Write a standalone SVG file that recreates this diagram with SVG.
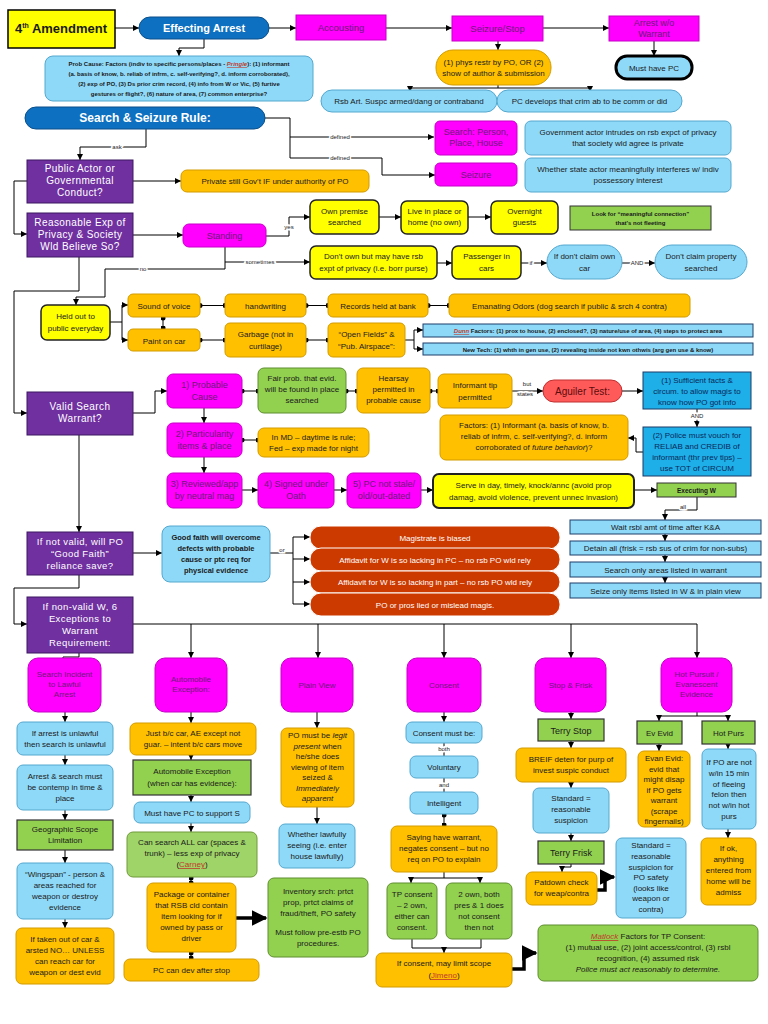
<svg xmlns="http://www.w3.org/2000/svg" width="768" height="1024" viewBox="0 0 768 1024">
<defs>
<marker id="ah" viewBox="0 0 10 10" refX="10" refY="5" markerWidth="6" markerHeight="6" markerUnits="userSpaceOnUse" orient="auto"><path d="M0,0 L10,5 L0,10 z" fill="#000"/></marker>
<marker id="dot" viewBox="0 0 10 10" refX="5" refY="5" markerWidth="5" markerHeight="5" markerUnits="userSpaceOnUse"><circle cx="5" cy="5" r="5" fill="#000"/></marker>
<marker id="bah" viewBox="0 0 10 10" refX="9" refY="5" markerWidth="16" markerHeight="16" markerUnits="userSpaceOnUse" orient="auto"><path d="M0,0 L10,5 L0,10 z" fill="#000"/></marker>
<style>
text{font-family:"Liberation Sans",Arial,Helvetica,sans-serif;font-size:8px;fill:#1a1a1a;text-anchor:middle}
.c{fill:none;stroke:#000;stroke-width:1}
.a{marker-end:url(#ah)}
.d{marker-start:url(#dot);marker-end:url(#dot)}
.thick{fill:none;stroke:#000;stroke-width:3.5;marker-end:url(#bah)}
.y{fill:#ffff00;stroke:#222;stroke-width:1.5}
.o{fill:#ffc000;stroke:#d39b00;stroke-width:1}
.lb{fill:#8fd9f8;stroke:#55a8cf;stroke-width:1}
.lbr{fill:#8fd9f8;stroke:#1f3f6a;stroke-width:1}
.m{fill:#ff00ff;stroke:#c800c8;stroke-width:1}
.p{fill:#7030a0;stroke:#3d1660;stroke-width:1}
.g{fill:#92d050;stroke:#5f8f30;stroke-width:1}
.gr{fill:#92d050;stroke:#333;stroke-width:1.2}
.r{fill:#cc3a00;stroke:#ffffff;stroke-width:1}
.bp{fill:#0e70c0;stroke:#0a4f8a;stroke-width:1}
.mb{fill:#1eaee8;stroke:#1a3a66;stroke-width:1}
.tw{fill:#fff}
.tp{fill:#fff;font-size:10px;letter-spacing:0.4px}
.tm{fill:#6e1a78;font-size:9px}
.lbl{font-size:6px;stroke:#fff;stroke-width:3;paint-order:stroke}
.red{fill:#c0392b;font-style:italic;text-decoration:underline}
.i{font-style:italic}
</style>
</defs>

<g id="connectors">
<path class="c a" d="M115,28 H139"/>
<path class="c a" d="M269,28 H296"/>
<path class="c a" d="M386,28 H452"/>
<path class="c a" d="M543,28 H609"/>
<path class="c a" d="M654,41 V56"/>
<path class="c a" d="M498,41 V50"/>
<path class="c" d="M498,85 V88 M410,88 H590"/>
<path class="c a" d="M410,88 V92"/>
<path class="c a" d="M590,88 V92"/>
<path class="c a" d="M204,39 V48 H179 V56"/>
<path class="c a" d="M265,118 H290 V137 H434"/>
<path class="c a" d="M290,137 V158 H382 V175 H435"/>
<text class="lbl" x="340" y="139">defined</text>
<text class="lbl" x="340" y="160">defined</text>
<path class="c a" d="M146,129 V147 H80 V160"/>
<text class="lbl" x="117" y="149">ask</text>
<path class="c a" d="M133,181 H181"/>
<path class="c a" d="M27,181 H14 V234 H27"/>
<path class="c a" d="M133,235 H183"/>
<path class="c a" d="M266,236 H289 V217 H310"/>
<text class="lbl" x="289" y="229">yes</text>
<path class="c a" d="M379,217 H401"/>
<path class="c a" d="M468,217 H491"/>
<path class="c a" d="M225,247 V262 H310"/>
<text class="lbl" x="260" y="264">sometimes</text>
<path class="c a" d="M225,262 V269 H105 V297 H76 V305"/>
<text class="lbl" x="143" y="271">no</text>
<path class="c a" d="M79,257 V291 H14 V413 H27"/>
<path class="c a" d="M437,263 H452"/>
<path class="c a" d="M521,263 H547"/>
<text class="lbl" x="531" y="265">if</text>
<path class="c a" d="M622,263 H655"/>
<text class="lbl" x="637" y="265">AND</text>
<path class="c" d="M110,322 H122 M122,305 V340"/>
<path class="c a" d="M122,305 H128"/>
<path class="c a" d="M122,340 H128"/>
<path class="c d" d="M200,305.5 H225"/>
<path class="c d" d="M306,305.5 H328"/>
<path class="c d" d="M428,305.5 H449"/>
<path class="c d" d="M163,318 V328"/>
<path class="c d" d="M200,340 H225"/>
<path class="c d" d="M306,340 H328"/>
<path class="c" d="M405,340 H414 M414,330 V349"/>
<path class="c a" d="M414,330 H423"/>
<path class="c a" d="M414,349 H423"/>
<path class="c a" d="M133,413 H155 V391 H167"/>
<path class="c d" d="M242,391 H258"/>
<path class="c d" d="M346,391 H357"/>
<path class="c d" d="M430,391 H438"/>
<path class="c a" d="M512,391 H543"/>
<text class="lbl" x="527" y="386">but</text>
<text class="lbl" x="525" y="396">states</text>
<path class="c a" d="M622,391 H643"/>
<path class="c a" d="M697,409 V427"/>
<text class="lbl" x="697" y="418">AND</text>
<path class="c a" d="M643,452 H636 V438 H628"/>
<path class="c a" d="M204,408 V423"/>
<path class="c d" d="M242,440 H258"/>
<path class="c a" d="M204,457 V473"/>
<path class="c a" d="M242,490 H258"/>
<path class="c a" d="M334,490 H347"/>
<path class="c a" d="M421,490 H433"/>
<path class="c a" d="M634,490 H657"/>
<path class="c a" d="M697,497 V510 H665 V520"/>
<text class="lbl" x="683" y="509">all</text>
<path class="c a" d="M665,534 V541"/>
<path class="c a" d="M665,555 V562"/>
<path class="c a" d="M665,577 V583"/>
<path class="c a" d="M79,435 V532"/>
<path class="c a" d="M133,553 H162"/>
<path class="c" d="M270,553 H293 M293,537 V604"/>
<text class="lbl" x="282" y="552">or</text>
<path class="c a" d="M293,537 H310"/>
<path class="c a" d="M293,559 H310"/>
<path class="c a" d="M293,582 H310"/>
<path class="c a" d="M293,604 H310"/>
<path class="c a" d="M79,575 V588 H14 V624 H27"/>
<path class="c" d="M133,624 H697"/>
<path class="c a" d="M191,624 V658"/>
<path class="c a" d="M318,624 V658"/>
<path class="c a" d="M444,624 V658"/>
<path class="c a" d="M571,624 V658"/>
<path class="c a" d="M697,624 V658"/>
<path class="c" d="M79,653 V657 H63 V658"/>
<path class="c a" d="M65,712 V722"/>
<path class="c a" d="M65,755 V765"/>
<path class="c a" d="M65,810 V820"/>
<path class="c a" d="M65,850 V863"/>
<path class="c a" d="M65,919 V928"/>
<path class="c a" d="M191,712 V723"/>
<path class="c a" d="M191,755 V760"/>
<path class="c a" d="M191,795 V802"/>
<path class="c a" d="M191,823 V832"/>
<path class="c d" d="M191,878 V883"/>
<path class="c d" d="M191,953 V958"/>
<path class="thick" d="M236,918 H266"/>
<path class="c a" d="M317,712 V728"/>
<path class="c a" d="M317,807 V824"/>
<path class="c a" d="M444,712 V722"/>
<path class="c" d="M444,743 V756"/>
<text class="lbl" x="444" y="751">both</text>
<path class="c" d="M444,778 V792"/>
<text class="lbl" x="444" y="787">and</text>
<path class="c d" d="M444,815 V825"/>
<path class="c" d="M444,872 V878 M411,878 H480"/>
<path class="c a" d="M411,878 V883"/>
<path class="c a" d="M480,878 V883"/>
<path class="c" d="M412,939 V948 H481 V939"/>
<path class="c a" d="M444,948 V953"/>
<path class="thick" d="M512,969 H524 V953 H536"/>
<path class="c a" d="M571,712 V719"/>
<path class="c a" d="M571,741 V748"/>
<path class="c a" d="M571,782 V788"/>
<path class="c a" d="M571,833 V841"/>
<path class="c a" d="M571,864 V867 H562 V872"/>
<path class="thick" d="M597,890 H605 V877 H614"/>
<path class="c" d="M697,712 V716 M659,716 H728"/>
<path class="c a" d="M659,716 V721"/>
<path class="c a" d="M728,716 V721"/>
<path class="c a" d="M659,744 V751"/>
<path class="c a" d="M728,744 V749"/>
<path class="c a" d="M728,829 V838"/>
</g>

<g id="n-amendment"><rect x="8" y="10" width="107" height="38" fill="#ffff00" stroke="#000" stroke-width="1.5"/><text x="61" y="33" style="font-size:13px;font-weight:bold">4<tspan style="font-size:7px" dy="-5">th</tspan><tspan dy="5"> Amendment</tspan></text></g>
<g id="n-effecting"><rect class="bp" x="139" y="17" width="130" height="22" rx="11"/><text class="tw" x="204" y="32" style="font-size:11px;font-weight:bold">Effecting Arrest</text></g>
<g id="n-accousting"><rect class="m" x="296" y="15" width="90" height="25"/><text class="tm" x="341" y="31" style="font-size:9.5px">Accousting</text></g>
<g id="n-seizurestop"><rect class="m" x="452" y="16" width="91" height="25"/><text class="tm" x="497.5" y="32" style="font-size:9.5px">Seizure/Stop</text></g>
<g id="n-arrestwo"><rect class="m" x="609" y="16" width="90" height="25"/><text class="tm" x="654" y="26">Arrest  w/o</text><text class="tm" x="654" y="37">Warrant</text></g>
<g id="n-musthavepc"><rect x="616" y="56" width="76" height="23" rx="11" fill="#8fd9f8" stroke="#000" stroke-width="3"/><text x="654" y="71">Must have PC</text></g>
<g id="n-physrestr"><rect class="o" x="436" y="50" width="115" height="35" rx="17"/><text x="493.5" y="65">(1) phys restr by PO, OR (2)</text><text x="493.5" y="76">show of author &amp; submission</text></g>
<g id="n-rsbart"><rect class="lb" x="321" y="90" width="176" height="22" rx="11" stroke="#1f3f6a"/><text x="409" y="104">Rsb Art. Suspc armed/dang or contraband</text></g>
<g id="n-pcdevelops"><rect class="lb" x="497" y="90" width="185" height="22" rx="11" stroke="#1f3f6a"/><text x="589.5" y="104">PC develops that crim ab to be comm or did</text></g>
<g id="n-probcause"><rect class="lb" x="45" y="56" width="268" height="45" rx="8"/>
<text x="179" y="66" style="font-size:6px;font-weight:bold">Prob Cause: Factors (indiv to specific persons/places - <tspan class="red">Pringle</tspan>): (1) informant</text>
<text x="179" y="76" style="font-size:6px;font-weight:bold">(a. basis of know, b. reliab of infrm, c. self-verifying?, d. inform corroborated),</text>
<text x="179" y="86" style="font-size:6px;font-weight:bold">(2) exp of PO, (3) Ds prior crim record, (4) info from W or Vic, (5) furtive</text>
<text x="179" y="96" style="font-size:6px;font-weight:bold">gestures or flight?, (6) nature of area, (7) common enterprise?</text></g>
<g id="n-ssrule"><rect class="bp" x="25" y="107" width="240" height="22" rx="11"/><text class="tw" x="145" y="122" style="font-size:12px;font-weight:bold">Search &amp; Seizure Rule:</text></g>
<g id="n-searchdef"><rect class="m" x="435" y="121" width="82" height="34" rx="5"/><text class="tm" x="476" y="135">Search: Person,</text><text class="tm" x="476" y="146">Place, House</text></g>
<g id="n-govactor"><rect class="lb" x="525" y="121" width="206" height="34" rx="6"/><text x="628" y="135">Government actor intrudes on rsb expct of privacy</text><text x="628" y="146">that society wld agree is private</text></g>
<g id="n-seizuredef"><rect class="m" x="435" y="163" width="82" height="23" rx="5"/><text class="tm" x="476" y="178">Seizure</text></g>
<g id="n-stateactor"><rect class="lb" x="525" y="158" width="206" height="34" rx="6"/><text x="628" y="172">Whether state actor meaningfully interferes w/ indiv</text><text x="628" y="183">possessory interest</text></g>
<g id="n-publicactor"><rect class="p" x="27" y="160" width="106" height="43"/><text class="tp" x="80" y="172">Public Actor or</text><text class="tp" x="80" y="184">Governmental</text><text class="tp" x="80" y="196">Conduct?</text></g>
<g id="n-private"><rect class="o" x="181" y="170" width="188" height="22" rx="6"/><text x="275" y="184">Private still Gov't IF under authority of PO</text></g>
<g id="n-reasonable"><rect class="p" x="27" y="213" width="106" height="44"/><text class="tp" x="80" y="226">Reasonable Exp of</text><text class="tp" x="80" y="238">Privacy &amp; Society</text><text class="tp" x="80" y="250">Wld Believe So?</text></g>
<g id="n-standing"><rect class="m" x="183" y="224" width="83" height="23" rx="6"/><text class="tm" x="224.5" y="239">Standing</text></g>
<g id="n-ownpremise"><rect class="y" x="310" y="200" width="69" height="34" rx="6"/><text x="344.5" y="214">Own premise</text><text x="344.5" y="225">searched</text></g>
<g id="n-liveinplace"><rect class="y" x="401" y="201" width="67" height="33" rx="6"/><text x="434.5" y="214">Live in place or</text><text x="434.5" y="225">home (no own)</text></g>
<g id="n-overnight"><rect class="y" x="491" y="201" width="67" height="33" rx="6"/><text x="524.5" y="214">Overnight</text><text x="524.5" y="225">guests</text></g>
<g id="n-meaningful"><rect x="570" y="206" width="141" height="24" fill="#92d050" stroke="#333"/><text x="640.5" y="216" style="font-size:6px;font-weight:bold">Look for “meaningful connection”</text><text x="640.5" y="225" style="font-size:6px;font-weight:bold">that's not fleeting</text></g>
<g id="n-dontown"><rect class="y" x="310" y="246" width="127" height="33" rx="6"/><text x="373.5" y="259">Don't own but may have rsb</text><text x="373.5" y="271">expt of privacy (i.e. borr purse)</text></g>
<g id="n-passenger"><rect class="y" x="452" y="246" width="69" height="33" rx="6"/><text x="486.5" y="259">Passenger in</text><text x="486.5" y="271">cars</text></g>
<g id="n-dontclaimcar"><rect class="lb" x="547" y="245" width="75" height="34" rx="17" stroke="#1f3f6a"/><text x="584.5" y="259">If don't claim own</text><text x="584.5" y="271">car</text></g>
<g id="n-dontclaimprop"><rect class="lb" x="655" y="245" width="92" height="34" rx="17" stroke="#1f3f6a"/><text x="701" y="259">Don't claim property</text><text x="701" y="271">searched</text></g>
<g id="n-heldout"><rect class="y" x="41" y="305" width="69" height="35" rx="6"/><text x="75.5" y="319">Held out to</text><text x="75.5" y="331">public everyday</text></g>
<g id="n-voice"><rect class="o" x="128" y="294" width="72" height="23" rx="5"/><text x="164" y="309">Sound of voice</text></g>
<g id="n-handwriting"><rect class="o" x="225" y="294" width="81" height="23" rx="5"/><text x="265.5" y="309">handwriting</text></g>
<g id="n-records"><rect class="o" x="328" y="294" width="100" height="23" rx="5"/><text x="378" y="309">Records held at bank</text></g>
<g id="n-odors"><rect class="o" x="449" y="294" width="241" height="23" rx="5"/><text x="569.5" y="309">Emanating Odors (dog search if public &amp; srch 4 contra)</text></g>
<g id="n-paint"><rect class="o" x="128" y="329" width="72" height="22" rx="5"/><text x="164" y="344">Paint on car</text></g>
<g id="n-garbage"><rect class="o" x="225" y="323" width="81" height="34" rx="5"/><text x="265.5" y="337">Garbage (not in</text><text x="265.5" y="349">curtilage)</text></g>
<g id="n-openfields"><rect class="o" x="328" y="323" width="77" height="34" rx="5"/><text x="366.5" y="337">“Open Fields” &amp;</text><text x="366.5" y="349">“Pub. Airspace”:</text></g>
<g id="n-dunn"><rect class="lbr" x="423" y="324" width="330" height="13"/><text x="588" y="333" style="font-size:6px;font-weight:bold"><tspan class="red">Dunn</tspan> Factors: (1) prox to house, (2) enclosed?, (3) nature/use of area, (4) steps to protect area</text></g>
<g id="n-newtech"><rect class="lbr" x="423" y="343" width="330" height="12"/><text x="588" y="351.5" style="font-size:6px;font-weight:bold">New Tech: (1) whth in gen use, (2) revealing inside not kwn othwis (arg gen use &amp; know)</text></g>
<g id="n-validwarrant"><rect class="p" x="27" y="392" width="106" height="43"/><text class="tp" x="80" y="410">Valid Search</text><text class="tp" x="80" y="422">Warrant?</text></g>
<g id="n-probable"><rect class="m" x="167" y="374" width="75" height="34" rx="6"/><text class="tm" x="204.5" y="388">1) Probable</text><text class="tm" x="204.5" y="400">Cause</text></g>
<g id="n-fairprob"><rect class="g" x="258" y="368" width="88" height="45" rx="6"/><text x="302" y="381">Fair prob. that evid.</text><text x="302" y="392">will be found in place</text><text x="302" y="403">searched</text></g>
<g id="n-hearsay"><rect class="o" x="357" y="368" width="73" height="45" rx="6"/><text x="393.5" y="381">Hearsay</text><text x="393.5" y="392">permitted in</text><text x="393.5" y="403">probable cause</text></g>
<g id="n-informanttip"><rect class="o" x="438" y="374" width="74" height="34" rx="6"/><text x="475" y="388">Informant tip</text><text x="475" y="400">permitted</text></g>
<g id="n-aguiler"><rect x="543" y="380" width="79" height="22" rx="11" fill="#ff5a5a" stroke="#c03030"/><text x="582.5" y="395" style="font-size:10px;fill:#5a0c0c">Aguiler Test:</text></g>
<g id="n-sufficient"><rect class="mb" x="643" y="372" width="108" height="37"/><text x="697" y="383" style="fill:#0b2a5a">(1) Sufficient facts &amp;</text><text x="697" y="394" style="fill:#0b2a5a">circum. to allow magis to</text><text x="697" y="405" style="fill:#0b2a5a">know how PO got info</text></g>
<g id="n-vouch"><rect class="mb" x="643" y="427" width="108" height="49"/><text x="697" y="438" style="fill:#0b2a5a">(2) Police must vouch for</text><text x="697" y="449" style="fill:#0b2a5a">RELIAB and CREDIB of</text><text x="697" y="460" style="fill:#0b2a5a">informant (thr prev tips) –</text><text x="697" y="471" style="fill:#0b2a5a">use TOT of CIRCUM</text></g>
<g id="n-factors"><rect class="o" x="440" y="415" width="188" height="45" rx="6"/><text x="534" y="428">Factors: (1) Informant (a. basis of know, b.</text><text x="534" y="439">reliab of infrm, c. self-verifying?, d. inform</text><text x="534" y="450">corroborated of <tspan class="i">future behavior</tspan>)?</text></g>
<g id="n-particularity"><rect class="m" x="167" y="423" width="75" height="34" rx="6"/><text class="tm" x="204.5" y="437">2) Particularity</text><text class="tm" x="204.5" y="449">items &amp; place</text></g>
<g id="n-inmd"><rect class="o" x="258" y="428" width="111" height="29" rx="6"/><text x="313.5" y="440">In MD – daytime is rule;</text><text x="313.5" y="451">Fed – exp made for night</text></g>
<g id="n-reviewed"><rect class="m" x="167" y="473" width="75" height="35" rx="6"/><text class="tm" x="204.5" y="487">3) Reviewed/app</text><text class="tm" x="204.5" y="499">by neutral mag</text></g>
<g id="n-signed"><rect class="m" x="258" y="473" width="76" height="35" rx="6"/><text class="tm" x="296" y="487">4) Signed under</text><text class="tm" x="296" y="499">Oath</text></g>
<g id="n-notstale"><rect class="m" x="347" y="473" width="74" height="35" rx="6"/><text class="tm" x="384" y="487">5) PC not stale/</text><text class="tm" x="384" y="499">old/out-dated</text></g>
<g id="n-serve"><rect x="433" y="474" width="201" height="34" rx="6" fill="#ffff00" stroke="#222" stroke-width="2"/><text x="533.5" y="488">Serve in day, timely, knock/annc (avoid prop</text><text x="533.5" y="500">damag, avoid violence, prevent unnec invasion)</text></g>
<g id="n-executing"><rect x="657" y="483" width="79" height="14" fill="#92d050" stroke="#333"/><text x="696.5" y="493" style="font-size:6.5px;font-weight:bold">Executing W</text></g>
<g id="n-wait"><rect class="lbr" x="570" y="520" width="191" height="14"/><text x="665.5" y="530">Wait rsbl amt of time after K&amp;A</text></g>
<g id="n-detain"><rect class="lbr" x="570" y="541" width="191" height="14"/><text x="665.5" y="551">Detain all (frisk = rsb sus of crim for non-subs)</text></g>
<g id="n-searchonly"><rect class="lbr" x="570" y="562" width="191" height="15"/><text x="665.5" y="572.5">Search only areas listed in warrant</text></g>
<g id="n-seizeonly"><rect class="lbr" x="570" y="583" width="191" height="15"/><text x="665.5" y="593.5">Seize only items listed in W &amp; in plain view</text></g>
<g id="n-notvalid"><rect class="p" x="27" y="532" width="106" height="43"/><text class="tp" x="80" y="545" style="font-size:9.5px">If not valid, will PO</text><text class="tp" x="80" y="557" style="font-size:9.5px">“Good Faith”</text><text class="tp" x="80" y="569" style="font-size:9.5px">reliance save?</text></g>
<g id="n-goodfaith"><rect class="lb" x="162" y="526" width="108" height="56" rx="8"/><text x="216" y="540" style="font-size:7.5px;font-weight:bold">Good faith will overcome</text><text x="216" y="551" style="font-size:7.5px;font-weight:bold">defects with probable</text><text x="216" y="562" style="font-size:7.5px;font-weight:bold">cause or ptc req for</text><text x="216" y="573" style="font-size:7.5px;font-weight:bold">physical evidence</text></g>
<g id="n-biased"><rect class="r" x="310" y="526" width="250" height="23" rx="11"/><text class="tw" x="435" y="541">Magistrate is biased</text></g>
<g id="n-lackingpc"><rect class="r" x="310" y="548" width="250" height="23" rx="11"/><text class="tw" x="435" y="563">Affidavit for W is so lacking in PC – no rsb PO wld rely</text></g>
<g id="n-lackingpart"><rect class="r" x="310" y="571" width="250" height="22" rx="11"/><text class="tw" x="435" y="585">Affidavit for W is so lacking in part – no rsb PO wld rely</text></g>
<g id="n-lied"><rect class="r" x="310" y="593" width="250" height="23" rx="11"/><text class="tw" x="435" y="608">PO or pros lied or mislead magis.</text></g>
<g id="n-nonvalid"><rect class="p" x="27" y="597" width="106" height="56"/><text class="tp" x="80" y="610" style="font-size:9.5px">If non-valid W, 6</text><text class="tp" x="80" y="622" style="font-size:9.5px">Exceptions to</text><text class="tp" x="80" y="634" style="font-size:9.5px">Warrant</text><text class="tp" x="80" y="646" style="font-size:9.5px">Requirement:</text></g>
<g id="n-sita"><rect class="m" x="28" y="658" width="73" height="54" rx="10"/><text class="tm" x="64.5" y="677" style="font-size:8px">Search Incident</text><text class="tm" x="64.5" y="687" style="font-size:8px">to Lawful</text><text class="tm" x="64.5" y="697" style="font-size:8px">Arrest</text></g>
<g id="n-auto"><rect class="m" x="155" y="658" width="72" height="54" rx="10"/><text class="tm" x="191" y="682" style="font-size:8px">Automobile</text><text class="tm" x="191" y="692" style="font-size:8px">Exception:</text></g>
<g id="n-plainview"><rect class="m" x="281" y="658" width="72" height="54" rx="10"/><text class="tm" x="317" y="688" style="font-size:8px">Plain View</text></g>
<g id="n-consent"><rect class="m" x="407" y="658" width="74" height="54" rx="10"/><text class="tm" x="444" y="688" style="font-size:8px">Consent</text></g>
<g id="n-stopfrisk"><rect class="m" x="535" y="658" width="71" height="54" rx="10"/><text class="tm" x="570.5" y="688" style="font-size:8px">Stop &amp; Frisk</text></g>
<g id="n-hotpursuit"><rect class="m" x="661" y="658" width="71" height="54" rx="10"/><text class="tm" x="696.5" y="677" style="font-size:8px">Hot Pursuit /</text><text class="tm" x="696.5" y="687" style="font-size:8px">Evanescent</text><text class="tm" x="696.5" y="697" style="font-size:8px">Evidence</text></g>
<g id="n-arrestunlawful"><rect class="lb" x="17" y="722" width="96" height="33" rx="6"/><text x="65" y="736">If arrest is unlawful</text><text x="65" y="747">then search is unlawful</text></g>
<g id="n-contemp"><rect class="lb" x="17" y="765" width="96" height="45" rx="6"/><text x="65" y="779">Arrest &amp; search must</text><text x="65" y="790">be contemp in time &amp;</text><text x="65" y="801">place</text></g>
<g id="n-geographic"><rect class="gr" x="17" y="820" width="96" height="30"/><text x="65" y="832">Geographic Scope</text><text x="65" y="843">Limitation</text></g>
<g id="n-wingspan"><rect class="lb" x="17" y="863" width="96" height="56" rx="6"/><text x="65" y="877">“Wingspan” - person &amp;</text><text x="65" y="888">areas reached for</text><text x="65" y="899">weapon or destroy</text><text x="65" y="910">evidence</text></g>
<g id="n-takenout"><rect class="o" x="16" y="928" width="98" height="56" rx="6"/><text x="65" y="942">If taken out of car &amp;</text><text x="65" y="953">arsted NO… UNLESS</text><text x="65" y="964">can reach car for</text><text x="65" y="975">weapon or dest evid</text></g>
<g id="n-justcar"><rect class="o" x="130" y="723" width="126" height="32" rx="6"/><text x="193" y="736">Just b/c car, AE except not</text><text x="193" y="747">guar. – intent b/c cars move</text></g>
<g id="n-autoexc"><rect class="gr" x="133" y="760" width="118" height="35"/><text x="192" y="774">Automobile Exception</text><text x="192" y="786">(when car has evidence):</text></g>
<g id="n-musthavepcs"><rect class="lb" x="134" y="802" width="116" height="21" rx="6"/><text x="192" y="816">Must have PC to support S</text></g>
<g id="n-searchall"><rect x="127" y="832" width="130" height="45" rx="6" fill="#9fd468" stroke="#6f9a3a"/><text x="192" y="845">Can search ALL car (spaces &amp;</text><text x="192" y="856">trunk) – less exp of privacy</text><text x="192" y="867">(<tspan class="red" style="font-style:normal">Carney</tspan>)</text></g>
<g id="n-package"><rect class="o" x="147" y="883" width="89" height="69" rx="6"/><text x="191.5" y="897">Package or container</text><text x="191.5" y="908">that RSB cld contain</text><text x="191.5" y="919">item looking for if</text><text x="191.5" y="930">owned by pass or</text><text x="191.5" y="941">driver</text></g>
<g id="n-pcdev"><rect class="o" x="124" y="959" width="135" height="22" rx="6"/><text x="191.5" y="973">PC can dev after stop</text></g>
<g id="n-inventory"><rect class="g" x="268" y="878" width="100" height="79" rx="6"/><text x="318" y="894">Inventory srch: prtct</text><text x="318" y="905">prop, prtct claims of</text><text x="318" y="916">fraud/theft, PO safety</text><text x="318" y="935">Must follow pre-estb PO</text><text x="318" y="946">procedures.</text></g>
<g id="n-legit"><rect class="o" x="281" y="728" width="73" height="79" rx="6"/><text x="317.5" y="738">PO must be <tspan class="i">legit</tspan></text><text x="317.5" y="748.5"><tspan class="i">present</tspan> when</text><text x="317.5" y="759">he/she does</text><text x="317.5" y="769.5">viewing of item</text><text x="317.5" y="780">seized &amp;</text><text x="317.5" y="790.5" class="i">Immediately</text><text x="317.5" y="801" class="i">apparent</text></g>
<g id="n-lawfully"><rect class="lb" x="279" y="824" width="76" height="44" rx="6"/><text x="317" y="837">Whether lawfully</text><text x="317" y="848">seeing (i.e. enter</text><text x="317" y="859">house lawfully)</text></g>
<g id="n-consentmust"><rect class="lb" x="406" y="722" width="76" height="21" rx="6"/><text x="444" y="736">Consent must be:</text></g>
<g id="n-voluntary"><rect class="lb" x="410" y="756" width="68" height="22" rx="6"/><text x="444" y="770">Voluntary</text></g>
<g id="n-intelligent"><rect class="lb" x="410" y="792" width="68" height="22" rx="6"/><text x="444" y="806">Intelligent</text></g>
<g id="n-sayingwarrant"><rect class="o" x="391" y="826" width="106" height="46" rx="6"/><text x="444" y="840">Saying have warrant,</text><text x="444" y="851">negates consent – but no</text><text x="444" y="862">req on PO to explain</text></g>
<g id="n-tpconsent"><rect class="g" x="387" y="883" width="50" height="56" rx="6"/><text x="412" y="897">TP consent</text><text x="412" y="908">– 2 own,</text><text x="412" y="919">either can</text><text x="412" y="930">consent.</text></g>
<g id="n-twoown"><rect class="g" x="446" y="883" width="66" height="56" rx="6"/><text x="479" y="897">2 own, both</text><text x="479" y="908">pres &amp; 1 does</text><text x="479" y="919">not consent</text><text x="479" y="930">then not</text></g>
<g id="n-limitscope"><rect class="o" x="376" y="953" width="136" height="34" rx="6"/><text x="444" y="966">If consent, may limit scope</text><text x="444" y="978">(<tspan class="red" style="font-style:normal">Jimeno</tspan>)</text></g>
<g id="n-matlock"><rect class="g" x="538" y="925" width="220" height="56" rx="6"/><text x="648" y="939"><tspan class="red">Matlock</tspan> Factors for TP Consent:</text><text x="648" y="950">(1) mutual use, (2) joint access/control, (3) rsbl</text><text x="648" y="961">recognition, (4) assumed risk</text><text x="648" y="972" class="i">Police must act reasonably to determine.</text></g>
<g id="n-terrystop"><rect class="gr" x="538" y="719" width="66" height="22"/><text x="571" y="734" style="font-size:9px">Terry Stop</text></g>
<g id="n-breif"><rect class="o" x="516" y="748" width="110" height="34" rx="6"/><text x="571" y="762">BREIF deten for purp of</text><text x="571" y="773">invest suspic conduct</text></g>
<g id="n-standard1"><rect class="lb" x="533" y="788" width="76" height="45" rx="6"/><text x="571" y="801">Standard =</text><text x="571" y="812">reasonable</text><text x="571" y="823">suspicion</text></g>
<g id="n-terryfrisk"><rect class="gr" x="538" y="841" width="66" height="23"/><text x="571" y="856" style="font-size:9px">Terry Frisk</text></g>
<g id="n-patdown"><rect class="o" x="526" y="872" width="71" height="33" rx="6"/><text x="561.5" y="885">Patdown check</text><text x="561.5" y="896">for weap/contra</text></g>
<g id="n-standard2"><rect class="lb" x="616" y="838" width="70" height="80" rx="6"/><text x="651" y="848">Standard =</text><text x="651" y="859">reasonable</text><text x="651" y="869.5">suspicion for</text><text x="651" y="880">PO safety</text><text x="651" y="890.5">(looks like</text><text x="651" y="901">weapon or</text><text x="651" y="911.5">contra)</text></g>
<g id="n-evevid"><rect class="gr" x="637" y="721" width="45" height="23"/><text x="659.5" y="736">Ev Evid</text></g>
<g id="n-hotpurs"><rect class="gr" x="702" y="721" width="53" height="23"/><text x="728.5" y="736">Hot Purs</text></g>
<g id="n-evanevid"><rect class="o" x="638" y="751" width="52" height="76" rx="6"/><text x="664" y="761">Evan Evid:</text><text x="664" y="771.5">evid that</text><text x="664" y="782">might disap</text><text x="664" y="792.5">if PO gets</text><text x="664" y="803">warrant</text><text x="664" y="813.5">(scrape</text><text x="664" y="824">fingernails)</text></g>
<g id="n-15min"><rect class="lb" x="702" y="749" width="54" height="80" rx="6"/><text x="729" y="765">If PO are not</text><text x="729" y="776">w/in 15 min</text><text x="729" y="786.5">of fleeing</text><text x="729" y="797">felon then</text><text x="729" y="808">not w/in hot</text><text x="729" y="819">purs</text></g>
<g id="n-ifok"><rect class="o" x="701" y="838" width="55" height="67" rx="6"/><text x="728.5" y="851">If ok,</text><text x="728.5" y="862">anything</text><text x="728.5" y="873">entered from</text><text x="728.5" y="884">home will be</text><text x="728.5" y="895">admiss</text></g>
</svg>
